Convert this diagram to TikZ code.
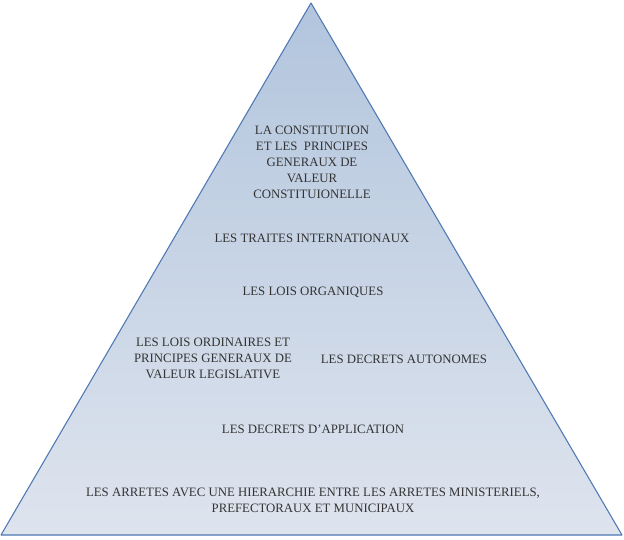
\documentclass[tikz,border=0pt]{standalone}
\usepackage{fontspec}
\setmainfont{Liberation Serif}
\begin{document}
\begin{tikzpicture}[x=0.75pt,y=-0.75pt,
  lbl/.style={text=black!80, font=\fontsize{9.6}{12}\selectfont, align=center, inner sep=0pt}]
\useasboundingbox (0,0) rectangle (624,539);
\path[fill=white] (0,0) rectangle (624,539);
\coordinate (A) at (311,3);
\coordinate (B) at (1,535);
\coordinate (C) at (622,535);
\shade[top color={rgb,255:red,178;green,197;blue,221}, bottom color={rgb,255:red,222;green,228;blue,238}]
  (A) -- (B) -- (C) -- cycle;
\draw[draw={rgb,255:red,79;green,120;blue,180}, line width=0.8pt, line join=round] (A) -- (B) -- (C) -- cycle;
\node[lbl] (n1) at (312,162) {LA CONSTITUTION\\ET LES\ \ PRINCIPES\\GENERAUX DE\\VALEUR\\CONSTITUIONELLE};
\node[lbl] (n2) at (312,238) {LES TRAITES INTERNATIONAUX};
\node[lbl] (n3) at (313,292) {LES LOIS ORGANIQUES};
\node[lbl] (n4) at (213,358) {LES LOIS ORDINAIRES ET\\PRINCIPES GENERAUX DE\\VALEUR LEGISLATIVE};
\node[lbl] (n5) at (404,359) {LES DECRETS AUTONOMES};
\node[lbl] (n6) at (313,429) {LES DECRETS D’APPLICATION};
\node[lbl] (n7) at (313,500) {LES ARRETES AVEC UNE HIERARCHIE ENTRE LES ARRETES MINISTERIELS,\\PREFECTORAUX ET MUNICIPAUX};
\end{tikzpicture}
\end{document}
